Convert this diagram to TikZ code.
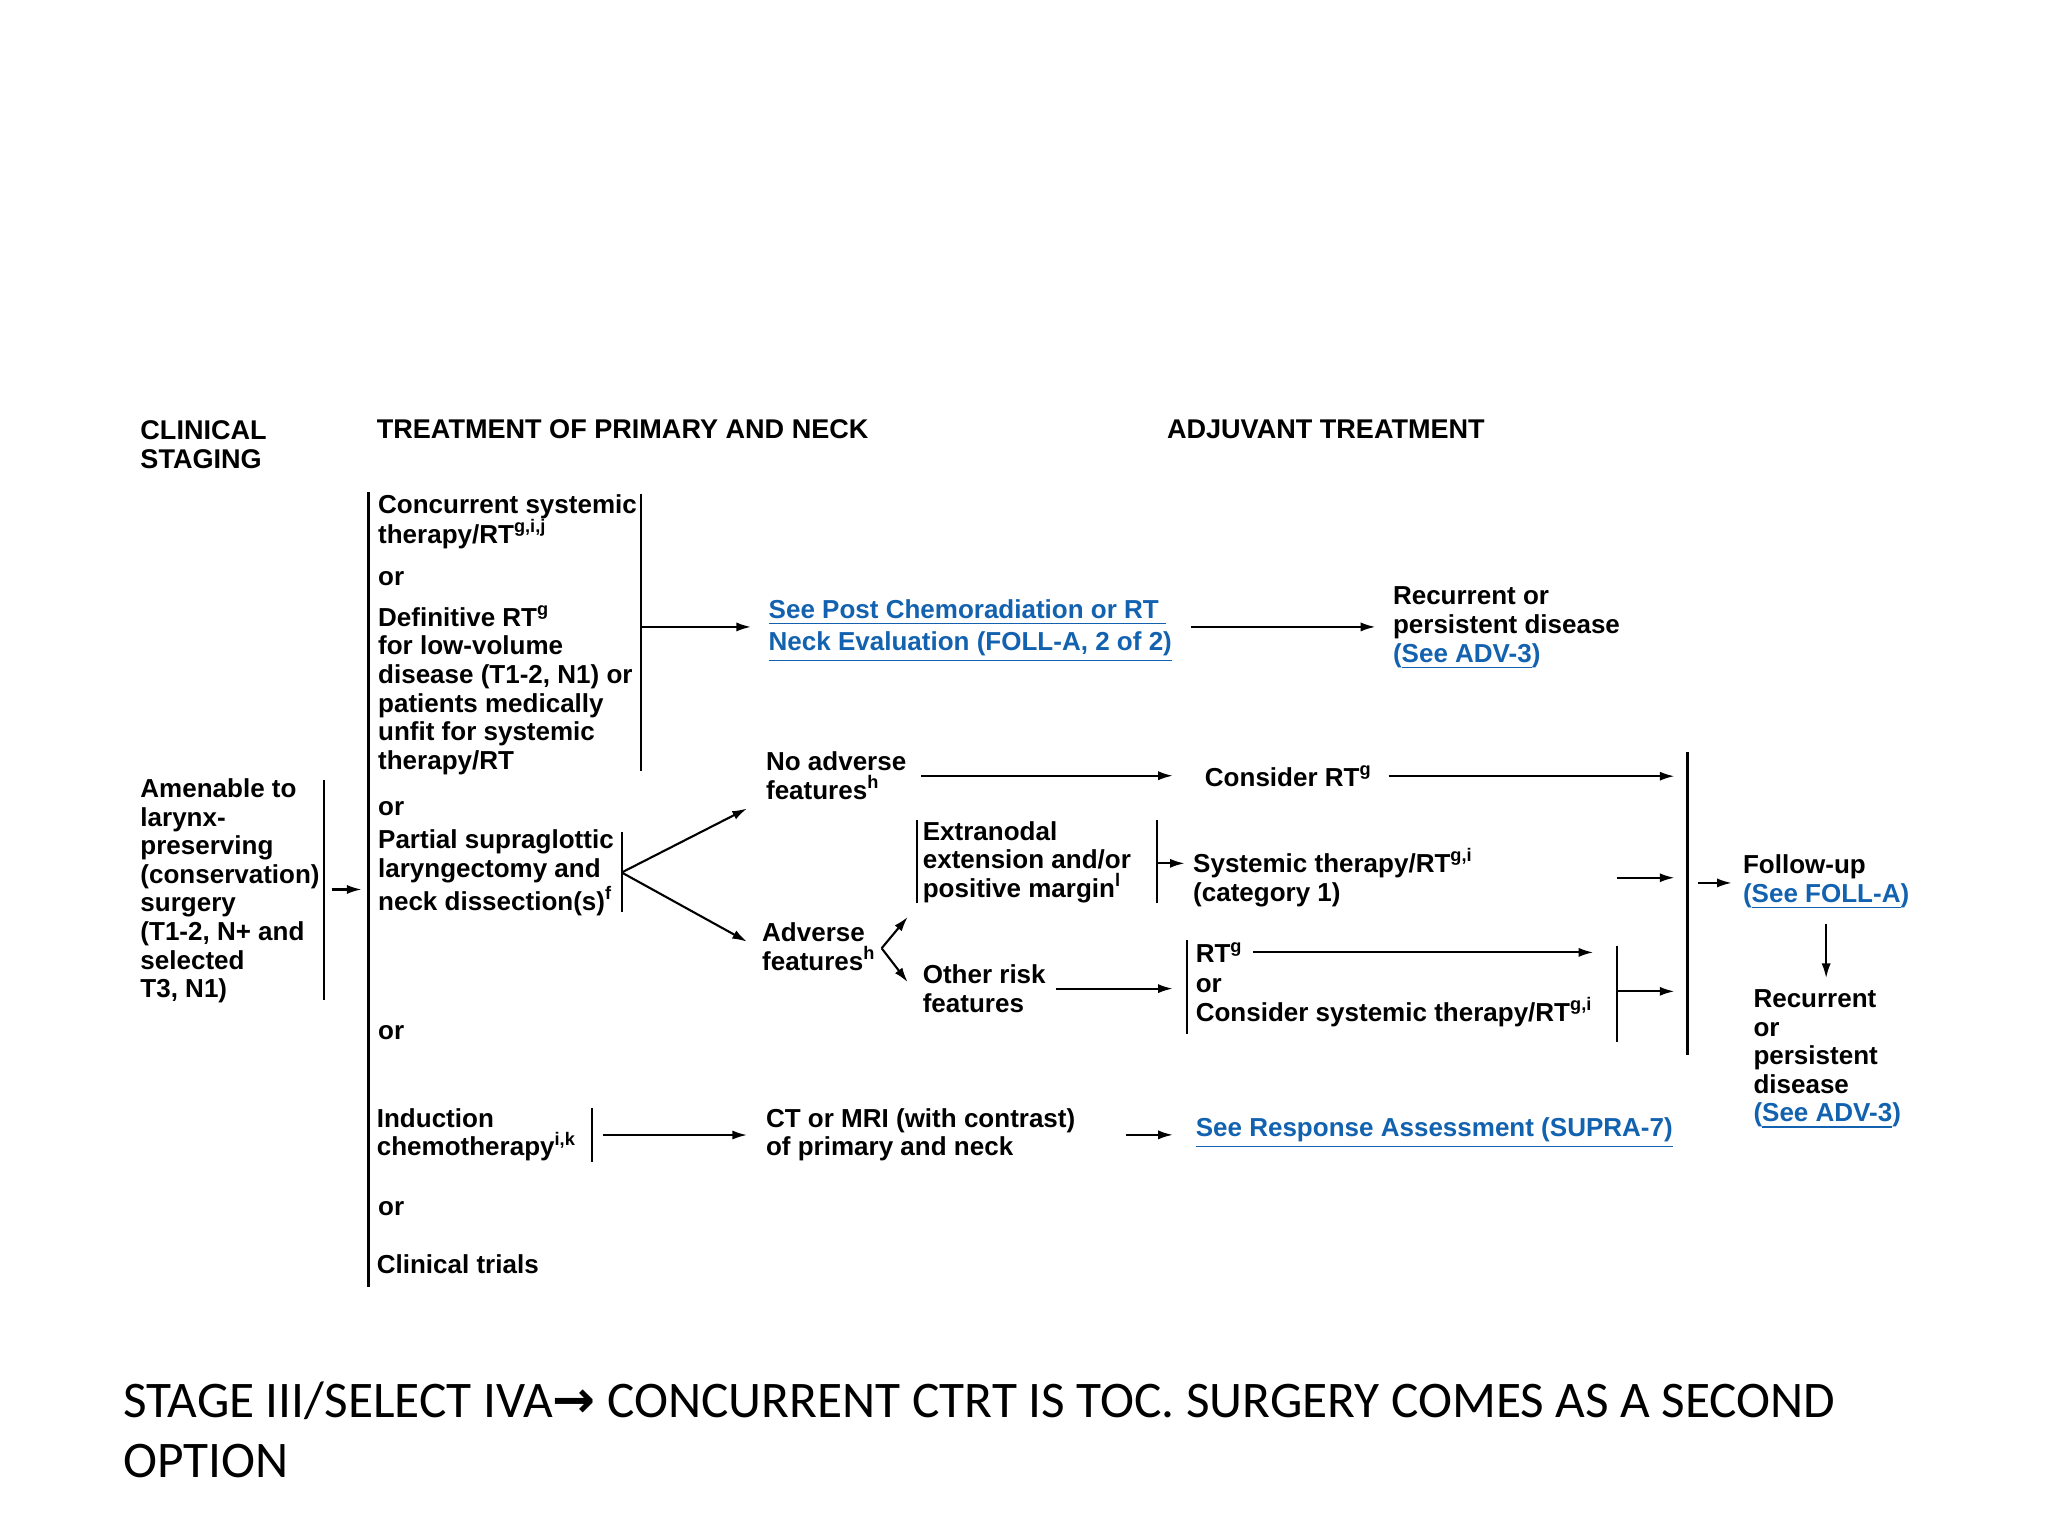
\documentclass[tikz,border=0pt]{standalone}
\usepackage{fontspec}
\setmainfont{Liberation Sans}
\newfontfamily\notefont{Carlito}
\newfontfamily\arrowfont{DejaVu Sans}
\usetikzlibrary{arrows.meta}
\definecolor{LinkBlue}{RGB}{18,98,176}

\begin{document}
\begin{tikzpicture}[
    x=0.0130612cm,
    y=-0.0130612cm,
    txt/.style={
        anchor=base west,
        inner sep=0pt,
        align=left,
        font=\bfseries\fontsize{7.4}{8.15}\selectfont
    },
    head/.style={
        txt,
        font=\bfseries\fontsize{7.7}{8.5}\selectfont
    },
    link/.style={
        txt,
        text=LinkBlue
    },
    bar/.style={
        line width=0.6pt
    },
    arrow/.style={
        -{Latex[length=4.2pt,width=2.6pt]},
        line width=0.6pt
    }
]

\fill[white] (0,0) rectangle (1568,1176);
\useasboundingbox (0,0) rectangle (1568,1176);

\node[head] (staging) at (107,359)
{CLINICAL\\STAGING};

\node[head] (primary) at (288,336)
{TREATMENT OF PRIMARY AND NECK};

\node[head] (adjuvant) at (893,336)
{ADJUVANT TREATMENT};

\node[txt] (concurrent) at (289,416)
{Concurrent systemic\\[-0.8pt]therapy/RT\textsuperscript{g,i,j}};

\node[txt] (orA) at (289,448)
{or};

\node[txt] (definitive) at (289,589)
{Definitive RT\textsuperscript{g}\\for low-volume\\disease (T1-2, N1) or\\patients medically\\unfit for systemic\\therapy/RT};

\node[link] (postcrt) at (588,498)
{\underline{See Post Chemoradiation or RT\ }\\[1pt]\underline{Neck Evaluation (FOLL-A, 2 of 2)}};

\node[txt] (recurA) at (1066,507)
{Recurrent or\\persistent disease\\\textcolor{LinkBlue}{(\underline{See ADV-3})}};

\node[txt] (orB) at (289,624)
{or};

\node[txt] (partial) at (289,697)
{Partial supraglottic\\laryngectomy and\\neck dissection(s)\textsuperscript{f}};

\node[txt] (amenable) at (107,764)
{Amenable to\\larynx-\\preserving\\(conservation)\\surgery\\(T1-2, N+ and\\selected\\T3, N1)};

\node[txt] (noadverse) at (586,612)
{No adverse\\features\textsuperscript{h}};

\node[txt] (considerrt) at (922,602)
{Consider RT\textsuperscript{g}};

\node[txt] (adverse) at (583,743)
{Adverse\\features\textsuperscript{h}};

\node[txt] (extranodal) at (706,687)
{Extranodal\\extension and/or\\positive margin\textsuperscript{l}};

\node[txt] (systemic) at (913,690)
{Systemic therapy/RT\textsuperscript{g,i}\\(category 1)};

\node[txt] (otherrisk) at (706,775)
{Other risk\\features};

\node[txt] (rtg) at (915,737)
{RT\textsuperscript{g}};

\node[txt] (rtalt) at (915,782)
{or\\Consider systemic therapy/RT\textsuperscript{g,i}};

\node[txt] (followup) at (1334,691)
{Follow-up\\\textcolor{LinkBlue}{(\underline{See FOLL-A})}};

\node[txt] (recurB) at (1342,859)
{Recurrent\\or\\persistent\\disease\\\textcolor{LinkBlue}{(\underline{See ADV-3})}};

\node[txt] (orC) at (289,796)
{or};

\node[txt] (induction) at (288,885)
{Induction\\chemotherapy\textsuperscript{i,k}};

\node[txt] (ctmri) at (586,885)
{CT or MRI (with contrast)\\of primary and neck};

\node[link] (response) at (915,870)
{\underline{See Response Assessment (SUPRA-7)}};

\node[txt] (orD) at (289,931)
{or};

\node[txt] (trials) at (288,975)
{Clinical trials};

\node[anchor=base west, inner sep=0pt, align=left, font=\notefont\fontsize{14.6}{17}\selectfont] (summary) at (94,1131)
{STAGE III/SELECT IVA{\arrowfont\bfseries →} CONCURRENT CTRT IS TOC. SURGERY COMES AS A SECOND\\OPTION};

\draw[bar, line width=0.8pt]
(282,377) coordinate (maintop) -- (282,985);

\draw[bar]
(491,378) -- (491,590);

\draw[bar]
(248,597) -- (248,766);

\draw[bar]
(476,637) -- (476,698);

\draw[bar]
(702,628) -- (702,691);

\draw[bar]
(886,628) -- (886,691);

\draw[bar]
(909,720) coordinate (rtltop) -- (909,792);

\draw[bar]
(1238,724) coordinate (rtrtop) -- (1238,798);

\draw[bar]
(1292,576) coordinate (bigtop) -- (1292,808);

\draw[bar]
(453,848) -- (453,890);

\coordinate (concmid) at (491,480);
\coordinate (amenmid) at (248,681);
\coordinate (partmid) at (476,668);
\coordinate (noadvtip) at (572,619);
\coordinate (advtip) at (572,721);
\coordinate (advfork) at (675,726);
\coordinate (advup) at (695,702);
\coordinate (advdown) at (695,752);
\coordinate (exmid) at (886,661);
\coordinate (rtmid) at (1238,759);
\coordinate (bigmid) at (1292,676);
\coordinate (indmid) at (453,869);

\draw[arrow, shorten >=4.8pt]
(concmid) -- (concmid -| postcrt.west);

\draw[arrow, shorten <=5.2pt, shorten >=4.8pt]
(postcrt.east |- concmid) -- (concmid -| recurA.west);

\draw[arrow, shorten <=2.2pt, shorten >=1.9pt]
(amenmid) -- (amenmid -| maintop);

\draw[arrow]
(partmid) -- (noadvtip);

\draw[arrow]
(partmid) -- (advtip);

\draw[arrow, shorten <=4.1pt, shorten >=8.9pt]
(noadverse.east) -- (noadverse.east -| considerrt.west);

\draw[arrow, shorten <=4.4pt, shorten >=3.7pt]
(considerrt.east) -- (considerrt.east -| bigtop);

\draw[arrow, shorten >=2.2pt]
(exmid) -- (exmid -| systemic.west);

\draw[arrow, shorten >=3.7pt]
(systemic.east -| rtrtop) -- (systemic.east -| bigtop);

\draw[arrow]
(advfork) -- (advup);

\draw[arrow]
(advfork) -- (advdown);

\draw[arrow, shorten <=2.6pt, shorten >=4.1pt]
(otherrisk.east) -- (otherrisk.east -| rtltop);

\draw[arrow, shorten <=2.6pt, shorten >=6.7pt]
(rtg.east) -- (rtg.east -| rtrtop);

\draw[arrow, shorten >=3.7pt]
(rtmid) -- (rtmid -| bigtop);

\draw[arrow, shorten <=3pt, shorten >=3pt]
(bigmid) -- (bigmid -| followup.west);

\draw[arrow, shorten <=3.7pt, shorten >=3pt]
(followup.south) -- (followup.south |- recurB.north);

\draw[arrow, shorten <=3.3pt, shorten >=5.2pt]
(indmid) -- (indmid -| ctmri.west);

\draw[arrow, shorten <=14.1pt, shorten >=6.3pt]
(ctmri.east) -- (ctmri.east -| response.west);

\end{tikzpicture}
\end{document}
